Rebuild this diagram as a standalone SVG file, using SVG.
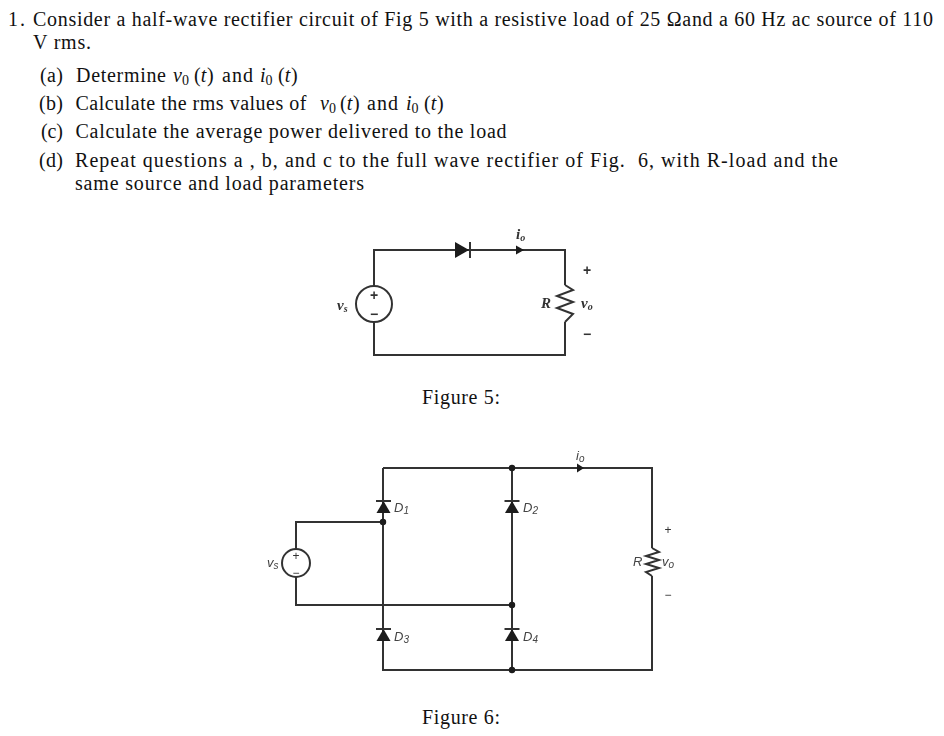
<svg xmlns="http://www.w3.org/2000/svg" width="944" height="736" viewBox="0 0 944 736">
<defs>
<filter id="soft" x="-5%" y="-5%" width="110%" height="110%"><feGaussianBlur stdDeviation="0.5"/></filter>
<symbol id="diodeUp" overflow="visible"><path class="fill" d="M-7 12 L7 12 L0 0 Z"/><path class="wire" d="M-7.500 0 H7.500"/></symbol>
</defs>
<style>
.t{font-family:"Liberation Serif","Times New Roman",serif;font-size:20px;fill:#111}
.m{font-style:italic}
.s{font-size:14px}
.wire{fill:none;stroke:#333;stroke-width:2}
.fill{fill:#1a1a1a;stroke:none}
.dot{fill:#1a1a1a}
.f5{font-family:"Liberation Serif",serif;font-style:italic;font-weight:bold;font-size:15px;fill:#333}
.f6{font-family:"Liberation Sans",sans-serif;font-style:italic;font-size:13px;fill:#444}
.sub{font-size:10px}
.sign{font-family:"Liberation Sans",sans-serif;font-size:14px;fill:#333;text-anchor:middle;font-weight:bold}
.sign6{font-family:"Liberation Sans",sans-serif;font-size:12px;fill:#333;text-anchor:middle}
</style>
<rect width="944" height="736" fill="#fff"/>
<g id="question-text">
<text class="t" x="8" y="26" textLength="17" lengthAdjust="spacing">1.</text>
<text class="t" x="33" y="26" textLength="900" lengthAdjust="spacing">Consider a half-wave rectifier circuit of Fig 5 with a resistive load of 25 Ωand a 60 Hz ac source of 110</text>
<text class="t" x="33" y="49" textLength="58" lengthAdjust="spacing">V rms.</text>
<text class="t" x="40" y="82" textLength="23" lengthAdjust="spacing">(a)</text>
<text class="t" x="76" y="82" textLength="90" lengthAdjust="spacing">Determine</text>
<text class="t" x="173" y="82"><tspan class="m">v</tspan><tspan class="s" dy="3">0</tspan><tspan x="194" dy="-3">(</tspan><tspan class="m">t</tspan><tspan x="207">)</tspan></text>
<text class="t" x="222" y="82" textLength="31" lengthAdjust="spacing">and</text>
<text class="t" x="260" y="82"><tspan class="m">i</tspan><tspan class="s" dy="3">0</tspan><tspan x="278" dy="-3">(</tspan><tspan class="m">t</tspan><tspan x="291">)</tspan></text>
<text class="t" x="39" y="110" textLength="24" lengthAdjust="spacing">(b)</text>
<text class="t" x="75.500" y="110" textLength="231" lengthAdjust="spacing">Calculate the rms values of</text>
<text class="t" x="320" y="110"><tspan class="m">v</tspan><tspan class="s" dy="3">0</tspan><tspan x="340" dy="-3">(</tspan><tspan class="m">t</tspan><tspan x="353">)</tspan></text>
<text class="t" x="367" y="110" textLength="31" lengthAdjust="spacing">and</text>
<text class="t" x="406" y="110"><tspan class="m">i</tspan><tspan class="s" dy="3">0</tspan><tspan x="424" dy="-3">(</tspan><tspan class="m">t</tspan><tspan x="437">)</tspan></text>
<text class="t" x="41" y="138" textLength="22" lengthAdjust="spacing">(c)</text>
<text class="t" x="75.500" y="138" textLength="431" lengthAdjust="spacing">Calculate the average power delivered to the load</text>
<text class="t" x="39" y="167" textLength="24" lengthAdjust="spacing">(d)</text>
<text class="t" x="75" y="167" textLength="763" lengthAdjust="spacing" xml:space="preserve">Repeat questions a , b, and c to the full wave rectifier of Fig.  6, with R-load and the</text>
<text class="t" x="75" y="190" textLength="289" lengthAdjust="spacing">same source and load parameters</text>
<text class="t" x="422" y="404" textLength="78" lengthAdjust="spacing">Figure 5:</text>
<text class="t" x="422" y="724" textLength="78" lengthAdjust="spacing">Figure 6:</text>
</g>
<g filter="url(#soft)">
<g id="fig5-connectors">
<path class="wire" d="M374 286 V250 H565 V285 M565 322 V355 H374 V322"/>
<path class="wire" d="M565 285 L573 290 L557 296 L573 302 L557 308 L573 314 L565 322"/>
<path class="fill" d="M516 245.500 L524 250 L516 254.500 Z"/>
</g>
<g id="fig5-source"><circle class="wire" cx="374" cy="304" r="18"/>
<text class="sign" x="374" y="300">+</text><text class="sign" x="374" y="319">−</text>
<text class="f5" x="337" y="310">v<tspan class="sub" dy="2">s</tspan></text></g>
<g id="fig5-diode"><path class="fill" d="M455 242 L469 250 L455 258 Z"/><path class="wire" d="M470 242 V258"/></g>
<g id="fig5-labels">
<text class="f5" x="516" y="239">i<tspan class="sub" dy="2">o</tspan></text>
<text class="f5" x="541" y="308">R</text>
<text class="f5" x="581" y="308">v<tspan class="sub" dy="2">o</tspan></text>
<text class="sign" x="587" y="275">+</text><text class="sign" x="587" y="339">−</text>
</g>
<g id="fig6-connectors">
<path class="wire" d="M383 468 H652 V548 M652 576 V670 H383 V468 M512 468 V670 M383 522 H296 V549 M296 577 V605 H512"/>
<path class="wire" d="M652 548 L659 552 L646 556 L659 560 L646 564 L659 568 L646 572 L652 576"/>
<path class="fill" d="M577 463.500 L584 468 L577 472.500 Z"/>
</g>
<g id="fig6-source"><circle class="wire" cx="296" cy="563" r="14"/>
<text class="sign6" x="296" y="560">+</text><text class="sign6" x="296" y="577">−</text>
<text class="f6" x="267" y="567">v<tspan class="sub" dy="2">s</tspan></text></g>
<g id="fig6-d1"><use href="#diodeUp" x="383.500" y="501"/><text class="f6" x="394" y="512">D<tspan class="sub" dy="2">1</tspan></text></g>
<g id="fig6-d2"><use href="#diodeUp" x="512" y="501"/><text class="f6" x="523" y="512">D<tspan class="sub" dy="2">2</tspan></text></g>
<g id="fig6-d3"><use href="#diodeUp" x="383.500" y="629"/><text class="f6" x="394" y="641">D<tspan class="sub" dy="2">3</tspan></text></g>
<g id="fig6-d4"><use href="#diodeUp" x="512" y="629"/><text class="f6" x="523" y="641">D<tspan class="sub" dy="2">4</tspan></text></g>
<g id="fig6-junctions">
<circle class="dot" cx="383" cy="522" r="3.200"/><circle class="dot" cx="512" cy="468" r="3.200"/>
<circle class="dot" cx="512" cy="605" r="3.200"/><circle class="dot" cx="512" cy="670" r="3.200"/>
</g>
<g id="fig6-labels">
<text class="f6" x="576" y="460">i<tspan class="sub" dy="2">o</tspan></text>
<text class="f6" x="633" y="566">R</text>
<text class="f6" x="662" y="566">v<tspan class="sub" dy="2">o</tspan></text>
<text class="sign6" x="668" y="534">+</text><text class="sign6" x="668" y="599">−</text>
</g>
</g>
</svg>
